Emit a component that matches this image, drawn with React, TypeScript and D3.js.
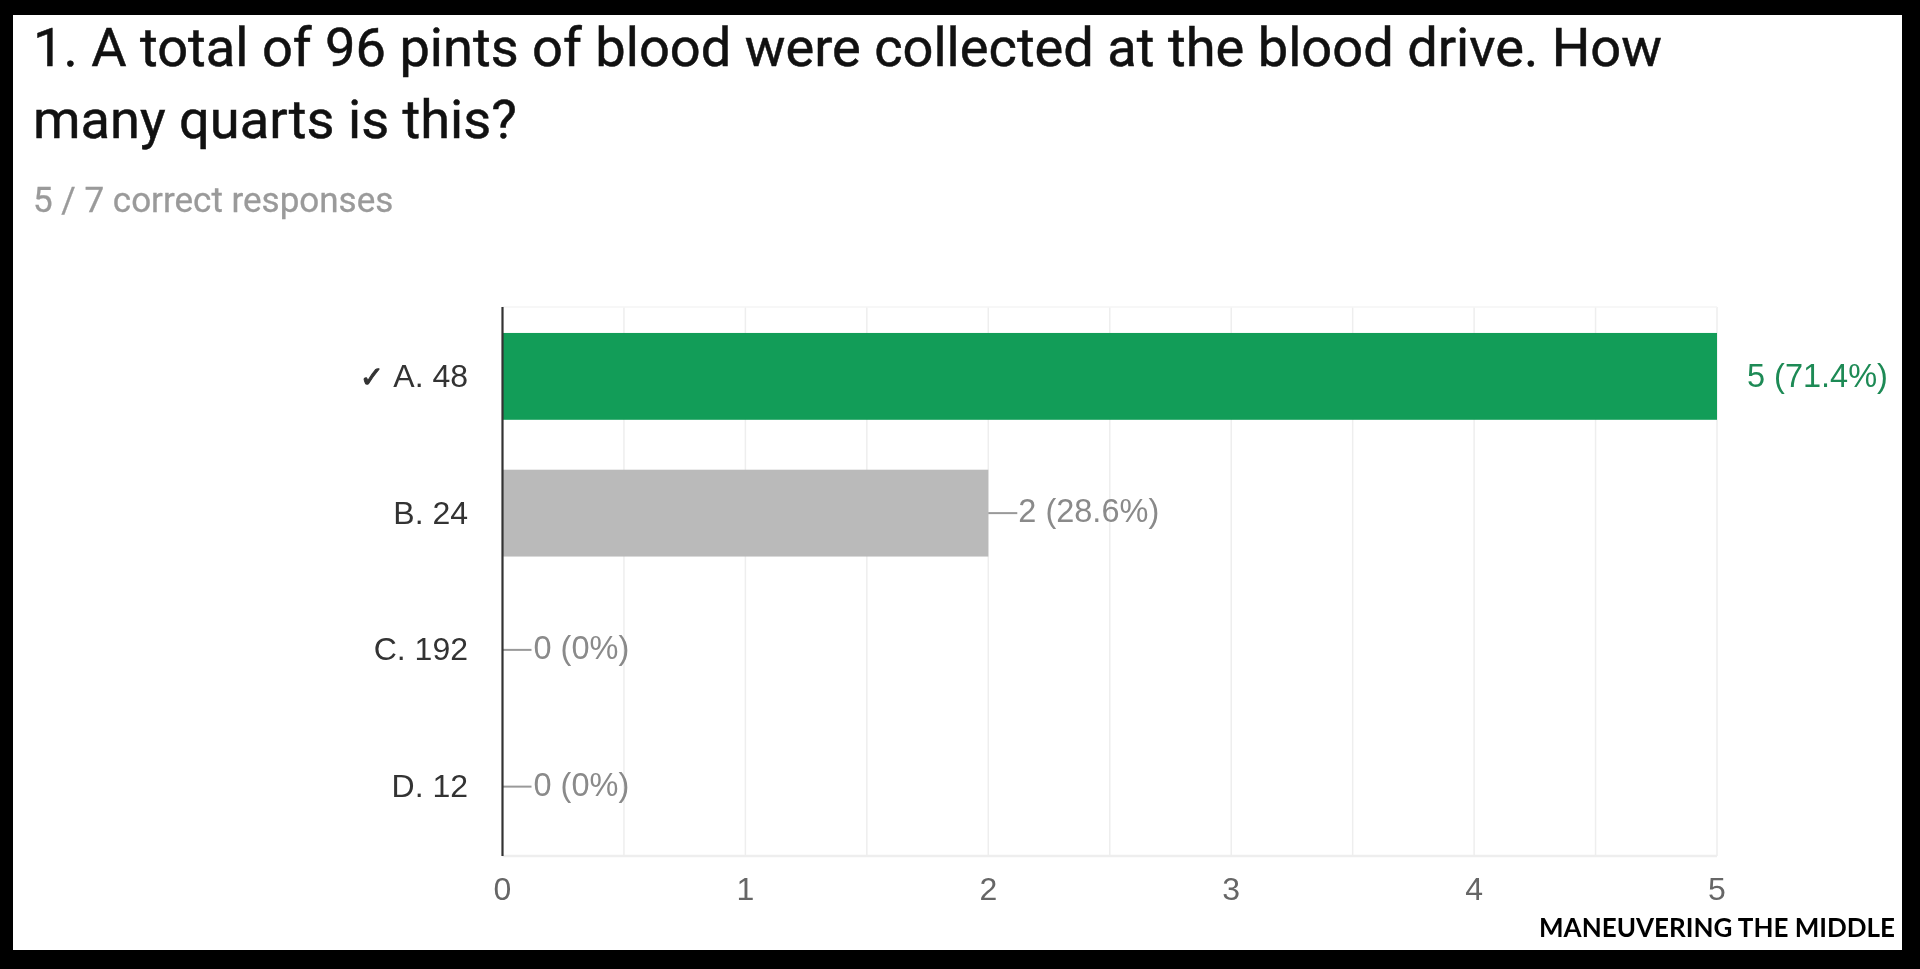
import * as d3 from 'd3';

const titleLines = ['1. A total of 96 pints of blood were collected at the blood drive. How', 'many quarts is this?'];
const subtitle = '5 / 7 correct responses';
const answers = ['A. 48', 'B. 24', 'C. 192', 'D. 12'];
const counts = [5, 2, 0, 0];
const valueLabels = ['5 (71.4%)', '2 (28.6%)', '0 (0%)', '0 (0%)'];
const correctAnswer = 'A. 48';
const xTicks = [0, 1, 2, 3, 4, 5];
const xGrid = [0.5, 1, 1.5, 2, 2.5, 3, 3.5, 4, 4.5, 5];
const credit = 'MANEUVERING THE MIDDLE';

const W = 1920;
const H = 969;
const plot = { left: 502.5, right: 1717, top: 307, bottom: 856 };
const labelFont = '"Liberation Sans", Arial, sans-serif';

export default function App() {
  const x = d3.scaleLinear().domain([0, 5]).range([plot.left, plot.right]);
  const y = d3.scaleBand<string>().domain(answers).range([plot.top + 1, plot.bottom - 1]).padding(0.365).paddingOuter(0.1825);

  return (
    <svg width={W} height={H} style={{ position: 'absolute', left: 0, top: 0, display: 'block' }}>
      <defs>
        {/* the source is an upscaled screenshot, everything in it is a bit soft */}
        <filter id="soft" x="-5%" y="-5%" width="110%" height="110%" colorInterpolationFilters="sRGB">
          <feGaussianBlur stdDeviation={0.7} />
        </filter>
      </defs>
      <rect width={W} height={H} fill="#000" />
      <rect x={13} y={15} width={1889} height={935} fill="#fff" />

      <g filter="url(#soft)">
        {titleLines.map((t, i) => (
          <text key={t} x={33} y={66 + i * 72} fontFamily="Roboto" fontSize={54.2} fill="#111" stroke="#111" strokeWidth={0.5}>{t}</text>
        ))}
        <text x={33} y={212} fontFamily="Roboto" fontSize={35} fill="#9a9a9a" stroke="#9a9a9a" strokeWidth={0.3}>{subtitle}</text>

        {xGrid.map((d) => (
          <line key={d} x1={x(d)} x2={x(d)} y1={plot.top} y2={plot.bottom} stroke="#eeeeee" strokeWidth={1.5} />
        ))}
        <line x1={plot.left} x2={plot.right} y1={plot.top} y2={plot.top} stroke="#f4f4f4" strokeWidth={1.5} />
        <line x1={plot.left} x2={plot.right} y1={plot.bottom} y2={plot.bottom} stroke="#eeeeee" strokeWidth={2.5} />

        {answers.map((a, i) => {
          const cy = y(a)! + y.bandwidth() / 2;
          const isCorrect = a === correctAnswer;
          const end = x(counts[i]);
          return (
            <g key={a}>
              {counts[i] > 0 && (
                <rect x={plot.left} y={y(a)} width={end - plot.left} height={y.bandwidth()} fill={isCorrect ? '#129d58' : '#bababa'} />
              )}
              <text x={468} y={cy + 10.5} textAnchor="end" fontFamily={labelFont} fontSize={32} fill="#333">
                {isCorrect && <tspan fontFamily="DejaVu Sans" fontSize={29} stroke="#333" strokeWidth={1}>✓ </tspan>}
                {a}
              </text>
              {!isCorrect && <line x1={end} x2={end + 29} y1={cy} y2={cy} stroke="#999" strokeWidth={2} />}
              <text
                x={end + (counts[i] === 0 ? 31 : 30)}
                y={cy + (isCorrect ? 10.5 : 9)}
                fontFamily={labelFont}
                fontSize={32.5}
                fill={isCorrect ? '#1d8a55' : '#8a8a8a'}
              >
                {valueLabels[i]}
              </text>
            </g>
          );
        })}

        <line x1={plot.left} x2={plot.left} y1={plot.top} y2={plot.bottom} stroke="#333" strokeWidth={2.2} />

        {xTicks.map((d) => (
          <text key={d} x={x(d)} y={900} textAnchor="middle" fontFamily={labelFont} fontSize={32} fill="#666">{d}</text>
        ))}

        <text x={1895} y={937} textAnchor="end" fontFamily="Lato" fontWeight={700} fontSize={26} fill="#000">{credit}</text>
      </g>
    </svg>
  );
}
